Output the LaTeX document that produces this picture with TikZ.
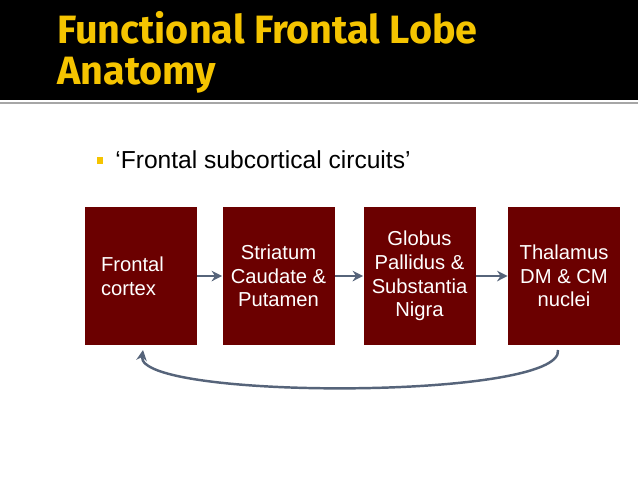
\documentclass[tikz,border=0pt]{standalone}
\usepackage{fontspec}
\setmainfont{Liberation Sans}
\newfontfamily\titlefont{Fira Sans}
\usetikzlibrary{positioning,arrows.meta}
\definecolor{boxred}{HTML}{6B0000}
\definecolor{gold}{HTML}{F5C400}
\definecolor{arrowgray}{HTML}{56647A}
\tikzset{
  stagebox/.style={fill=boxred, minimum width=112\pxu, minimum height=138\pxu, inner sep=0pt,
    text=white, align=center, font=\fontsize{11.5}{13.5}\selectfont},
  flow/.style={-{Stealth[length=6pt,width=6pt]}, draw=arrowgray, line width=1.4pt}
}
\newlength{\pxu}
\setlength{\pxu}{0.02cm}
\begin{document}
\begin{tikzpicture}[x=0.02cm,y=-0.02cm]
\useasboundingbox (0,0) rectangle (638,478);
\fill[black] (0,0) rectangle (638,100);
\draw[gray!70, line width=1.2pt] (0,103) -- (638,103);

\node[anchor=west, text=gold, align=left, inner sep=0pt, font=\titlefont\bfseries\fontsize{22.5}{23.5}\selectfont] (title) at (57,52) {Functional Frontal Lobe\\Anatomy};

\fill[gold] (97,157) rectangle (103,164);
\node[anchor=west, inner sep=0pt, font=\fontsize{14}{16}\selectfont] (bullet) at (115,160) {‘Frontal subcortical circuits’};

\node[stagebox, align=left, text width=80\pxu] (cortex) at (141,276) {Frontal\\cortex};
\node[stagebox] (striatum) at (278.5,276) {Striatum\\Caudate \&\\Putamen};
\node[stagebox] (globus) at (419.5,276) {Globus\\Pallidus \&\\Substantia\\Nigra};
\node[stagebox] (thalamus) at (564,276) {Thalamus\\DM \& CM\\nuclei};

\draw[flow] (cortex) -- (striatum);
\draw[flow] (striatum) -- (globus);
\draw[flow] (globus) -- (thalamus);
\coordinate (loopstart) at (558,350);
\coordinate (loopend) at (143,350);
\draw[flow] (loopstart) .. controls (565,400) and (136,400) .. (loopend);
\end{tikzpicture}
\end{document}
